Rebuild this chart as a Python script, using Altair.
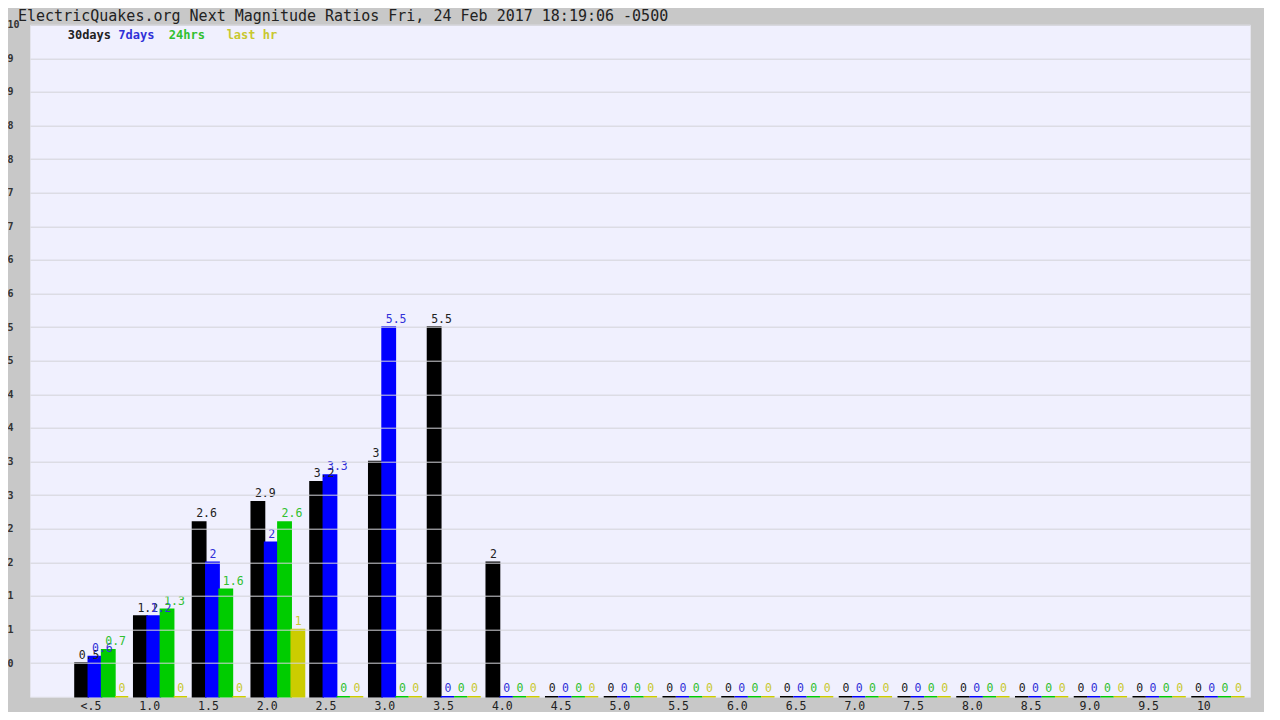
import altair as alt
import pandas as pd

categories = ["<.5", "1.0", "1.5", "2.0", "2.5", "3.0", "3.5", "4.0", "4.5", "5.0",
              "5.5", "6.0", "6.5", "7.0", "7.5", "8.0", "8.5", "9.0", "9.5", "10"]
series = ["30days", "7days", "24hrs", "last hr"]

vals_30days = [0.5, 1.2, 2.6, 2.9, 3.2, 3.5, 5.5, 2.0, 0, 0, 0, 0, 0, 0, 0, 0, 0, 0, 0, 0]
vals_7days = [0.6, 1.2, 2.0, 2.3, 3.3, 5.5, 0, 0, 0, 0, 0, 0, 0, 0, 0, 0, 0, 0, 0, 0]
vals_24hrs = [0.7, 1.3, 1.6, 2.6, 0, 0, 0, 0, 0, 0, 0, 0, 0, 0, 0, 0, 0, 0, 0, 0]
vals_lasthr = [0, 0, 0, 1.0, 0, 0, 0, 0, 0, 0, 0, 0, 0, 0, 0, 0, 0, 0, 0, 0]

labels_30days = ["0.5", "1.2", "2.6", "2.9", "3.2", "3", "5.5", "2", "0", "0",
                 "0", "0", "0", "0", "0", "0", "0", "0", "0", "0"]
labels_7days = ["0.6", "1.2", "2", "2", "3.3", "5.5", "0", "0", "0", "0",
                "0", "0", "0", "0", "0", "0", "0", "0", "0", "0"]
labels_24hrs = ["0.7", "1.3", "1.6", "2.6", "0", "0", "0", "0", "0", "0",
                "0", "0", "0", "0", "0", "0", "0", "0", "0", "0"]
labels_lasthr = ["0", "0", "0", "1", "0", "0", "0", "0", "0", "0",
                 "0", "0", "0", "0", "0", "0", "0", "0", "0", "0"]

y_ticks = [0.5, 1, 1.5, 2, 2.5, 3, 3.5, 4, 4.5, 5, 5.5, 6, 6.5, 7, 7.5, 8, 8.5, 9, 9.5, 10]

title_text = "ElectricQuakes.org Next Magnitude Ratios Fri, 24 Feb 2017 18:19:06 -0500"

bar_colors = ["#000000", "#0000ff", "#00cc00", "#cccc00"]
label_colors = ["#222222", "#3030d8", "#30c030", "#c8c830"]
MONO = "DejaVu Sans Mono"

all_vals = [vals_30days, vals_7days, vals_24hrs, vals_lasthr]
all_labels = [labels_30days, labels_7days, labels_24hrs, labels_lasthr]
rows = []
for ci, cat in enumerate(categories):
    for si, s in enumerate(series):
        rows.append({"cat": cat, "series": s, "value": all_vals[si][ci],
                     "label": all_labels[si][ci]})
df = pd.DataFrame(rows)

x_enc = alt.X("cat:N", sort=categories,
              scale=alt.Scale(domain=categories, paddingInner=0.0928,
                              paddingOuter=0.429, align=0.892),
              axis=alt.Axis(title=None, labelAlign="left", labelOffset=-21,
                            ticks=False, domain=False, grid=False, labelAngle=0,
                            labelPadding=10, labelBaseline="middle",
                            labelFont=MONO, labelFontSize=11.5, labelColor="#222222"))
xoff_enc = alt.XOffset("series:N", sort=series,
                       scale=alt.Scale(domain=series, paddingInner=0, paddingOuter=0))
y_enc = alt.Y("value:Q", scale=alt.Scale(domain=[0, 10], nice=False, zero=True),
              axis=alt.Axis(title=None, values=y_ticks, labelExpr="floor(datum.value)",
                            ticks=False, domain=False, grid=True, gridColor="#d2d2d8",
                            gridWidth=1, labelAlign="left", labelPadding=23,
                            labelBaseline="middle", labelFont=MONO, labelFontSize=10,
                            labelFontWeight="bold", labelColor="#333333", zindex=1))

base = alt.Chart(df).encode(x=x_enc, xOffset=xoff_enc, y=y_enc)

bars = base.mark_bar(strokeWidth=1.5).encode(
    color=alt.Color("series:N", scale=alt.Scale(domain=series, range=bar_colors), legend=None),
    stroke=alt.Stroke("series:N", scale=alt.Scale(domain=series, range=bar_colors), legend=None),
)

texts = base.mark_text(align="left", baseline="alphabetic", dx=-3, dy=-4.5,
                       font=MONO, fontSize=11.5).encode(
    text="label:N",
    color=alt.Color("series:N", scale=alt.Scale(domain=series, range=label_colors), legend=None),
)

# legend line in monospace: each word starts at a character column
legend_cols = [0, 7, 14, 22]
char_w = 12 * 0.602
legend_layers = []
for s, col, c in zip(series, legend_cols, label_colors):
    legend_layers.append(
        alt.Chart(pd.DataFrame({"text": [s]})).mark_text(
            align="left", baseline="middle", font=MONO, fontSize=12,
            fontWeight="bold", color=c,
        ).encode(x=alt.value(37.7 + col * char_w), y=alt.value(10.3), text="text:N")
    )

chart = alt.layer(bars, texts, *legend_layers).resolve_scale(
    color="independent", stroke="independent"
).properties(
    width=1220, height=672,
    title=alt.TitleParams(text=title_text, anchor="start", frame="group", dx=-12,
                          font=MONO, fontSize=15, fontWeight="normal", color="#222222",
                          offset=-4),
    background="#c8c8c8",
    padding={"left": 22, "top": 16.7, "right": 14, "bottom": 15.3},
    autosize=alt.AutoSizeParams(type="none"),
).configure_view(fill="#f0f0fe", stroke="#e4e4ec", strokeWidth=1)

chart.save("out.html", embed_options={"renderer": "svg", "actions": False})
